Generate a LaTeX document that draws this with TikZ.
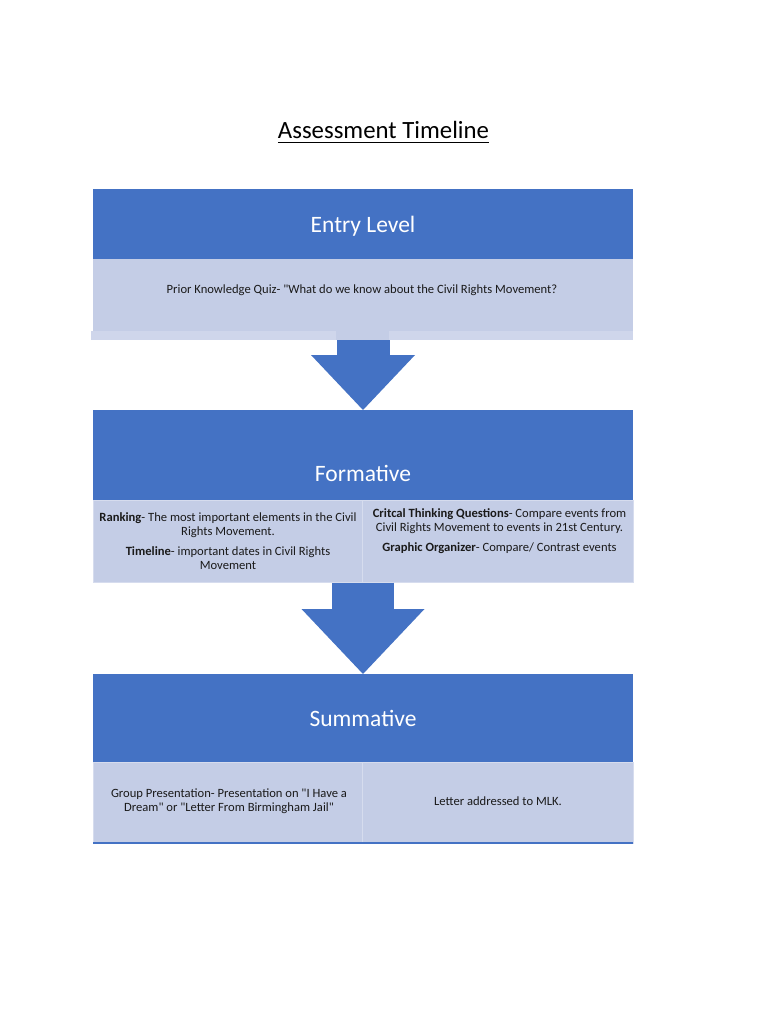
\documentclass[tikz,border=0pt]{standalone}
\usepackage{fontspec}
\setmainfont{Carlito}[Ligatures=TeXOff]
\usetikzlibrary{arrows.meta}
\definecolor{hdr}{HTML}{4472C4}
\definecolor{cellc}{HTML}{C4CDE6}
\definecolor{stripc}{HTML}{CFD6EB}
\definecolor{edgec}{HTML}{D6DCEE}
\definecolor{txt}{HTML}{1A1A1A}
\tikzset{
  hdrbox/.style={fill=hdr, draw=none, inner sep=0pt, outer sep=0pt, anchor=north west},
  cellbox/.style={fill=cellc, draw=edgec, line width=0.8pt, inner sep=0pt, outer sep=0pt, anchor=north west},
  hdrtext/.style={text=white, font=\fontsize{23.5}{27}\selectfont, inner sep=0pt},
  bodytext/.style={text=txt, font=\fontsize{12.6}{14}\selectfont, align=center, inner sep=0pt},
  blockarrow/.style={draw=hdr, line width=#1, line cap=butt},
}
\begin{document}
\begin{tikzpicture}[x=1pt,y=-1pt]
\useasboundingbox[fill=white] (0,0) rectangle (768,1024);

% title
\node[font=\fontsize{24.8}{30}\selectfont, text=black, inner sep=0pt, anchor=base] (title) at (383.5,139) {Assessment Timeline};
\draw[line width=1.1pt] ([yshift=-3.5pt]title.base west) -- ([yshift=-3.5pt]title.base east);

% Entry level
\node[hdrbox, minimum width=540pt, minimum height=71pt] (eH) at (93,189) {};
\node[cellbox, draw=none, minimum width=540pt, minimum height=72pt] (eC) at (93,259) {};
\node[fill=stripc, inner sep=0pt, outer sep=0pt, anchor=north west, minimum width=542pt, minimum height=9pt] (eS) at (91,331) {};
\node[fill=cellc, inner sep=0pt, outer sep=0pt, anchor=north west, minimum width=53pt, minimum height=9pt] (eSm) at (336,331) {};
\node[hdrtext] (eT) at (363,226) {Entry Level};
\node[bodytext] (eTx) at (362,290) {Prior Knowledge Quiz- "What do we know about the Civil Rights Movement?};

% Formative
\node[hdrbox, minimum width=540pt, minimum height=90pt] (fH) at (93,410) {};
\node[cellbox, minimum width=269pt, minimum height=82pt] (fL) at (93,500) {};
\node[cellbox, minimum width=271pt, minimum height=82pt] (fR) at (362,500) {};
\node[hdrtext] (fT) at (363,473) {Formative};
\node[bodytext] (fLx) at (228,541.5) {\textbf{Ranking}- The most important elements in the Civil\\Rights Movement.\\[6pt]\textbf{Timeline}- important dates in Civil Rights\\Movement};
\node[bodytext] (fRx) at (499.5,531.5) {\textbf{Critcal Thinking Questions}- Compare events from\\Civil Rights Movement to events in 21st Century.\\[6pt]\textbf{Graphic Organizer}- Compare/ Contrast events};

% Summative
\node[hdrbox, minimum width=540pt, minimum height=88pt] (sH) at (93,674) {};
\node[cellbox, minimum width=269pt, minimum height=81pt] (sL) at (93,762) {};
\node[cellbox, minimum width=271pt, minimum height=81pt] (sR) at (362,762) {};
\draw[hdr, line width=2.5pt] (sL.south west) -- (sR.south east);
\node[hdrtext] (sT) at (363,718) {Summative};
\node[bodytext] (sLx) at (229,801) {Group Presentation- Presentation on "I Have a\\Dream" or "Letter From Birmingham Jail"};
\node[bodytext] (sRx) at (498,801) {Letter addressed to MLK.};

% arrows
\coordinate (a1) at (363,340);
\coordinate (a2) at (363,582.5);
\draw[blockarrow=53pt, -{Triangle[width=104pt,length=55pt,line width=0pt]}] (a1) -- (fH.north);
\draw[blockarrow=62pt, -{Triangle[width=123pt,length=65pt,line width=0pt]}] (a2) -- (sH.north);
\end{tikzpicture}
\end{document}
